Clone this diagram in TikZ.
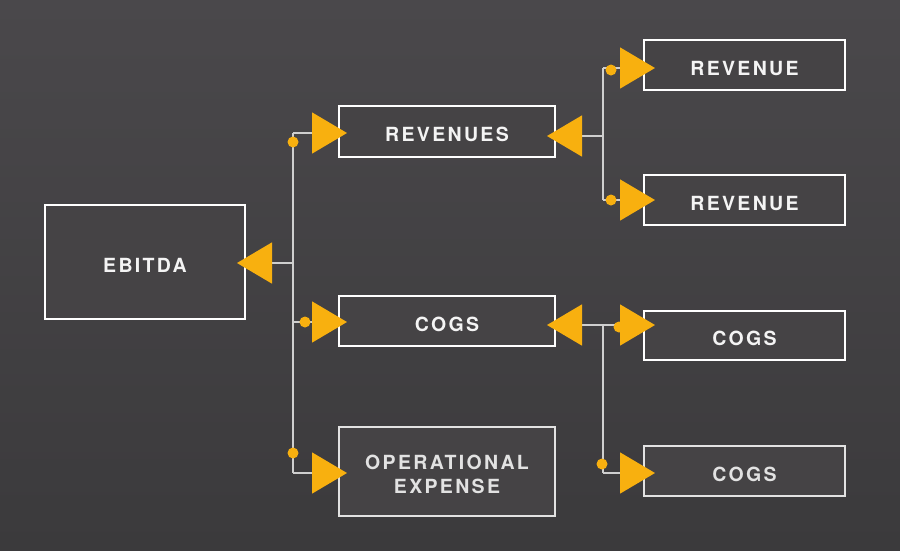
\documentclass[tikz,border=0pt]{standalone}
\usepackage{fontspec}
\setmainfont{TeX Gyre Heros}
\newfontfamily\lblfont[LetterSpace=12]{TeX Gyre Heros}
\usetikzlibrary{arrows.meta,calc}
\definecolor{bgtop}{HTML}{4A484B}
\definecolor{bgbot}{HTML}{3B3A3C}
\definecolor{boxfill}{HTML}{454345}
\definecolor{triorange}{HTML}{F8B00F}
\definecolor{wirec}{HTML}{CFCFCF}
\definecolor{txtc}{HTML}{F4F4F4}
\definecolor{txtd}{HTML}{E2E2E2}
\newcommand\oneline[1]{\raisebox{0pt}[20pt][0pt]{#1}}
\begin{document}
\begin{tikzpicture}[x=1pt,y=-1pt,
  box/.style={draw=white, line width=2pt, fill=boxfill, inner sep=0pt,
    text=txtc, font=\lblfont\bfseries\fontsize{19.5}{24}\selectfont, align=center},
  dimbox/.style={draw=txtd, text=txtd},
  wire/.style={draw=wirec, line width=1.5pt},
  tipto/.style={-{Triangle[length=35pt,width=41pt,color=triorange]}},
  dot/.style={circle, fill=triorange, minimum size=11pt, inner sep=0pt},
]
\shade[top color=bgtop, bottom color=bgbot] (0,0) rectangle (900,550);
\useasboundingbox (0,0) rectangle (900,550);

% boxes
\node[box, minimum width=200pt, minimum height=114pt] (ebitda) at (145,262) {\oneline{EBITDA}};
\node[box, minimum width=216pt, minimum height=51pt] (revs) at (447,131.5) {\oneline{REVENUES}};
\node[box, minimum width=216pt, minimum height=50pt] (cogsm) at (447,321) {\oneline{COGS}};
\node[box, dimbox, minimum width=216pt, minimum height=89pt] (opex) at (447,471.5)
  {\raisebox{0pt}[20pt][24pt]{\begin{tabular}[t]{@{}c@{}}OPERATIONAL\\EXPENSE\end{tabular}}};
\node[box, minimum width=201pt, minimum height=50pt] (rev1) at (744.5,65) {\oneline{REVENUE}};
\node[box, minimum width=201pt, minimum height=50pt] (rev2) at (744.5,200) {\oneline{REVENUE}};
\node[box, minimum width=201pt, minimum height=49pt] (cogs1) at (744.5,335.5) {\oneline{COGS}};
\node[box, dimbox, minimum width=201pt, minimum height=50pt] (cogs2) at (744.5,471) {\oneline{COGS}};

% junction coordinates
\coordinate (jLt) at (293,133);
\coordinate (jLe) at (293,263);
\coordinate (jLc) at (293,322);
\coordinate (jLb) at (293,473);
\coordinate (jAt) at (603,68);
\coordinate (jAm) at (603,136);
\coordinate (jAb) at (603,200);
\coordinate (jBt) at (603,325);
\coordinate (jBb) at (603,473);

% trunks
\draw[wire] (jLt) -- (jLb);
\draw[wire] (jAt) -- (jAb);
\draw[wire] (jBt) -- (jBb);

% branches with arrowheads
\draw[wire, tipto, shorten >=-9pt] (jLe) -- (jLe -| ebitda.east);
\draw[wire, tipto, shorten >=-9pt] (jLt) -- (jLt -| revs.west);
\draw[wire, tipto, shorten >=-9pt] (jLc) -- (jLc -| cogsm.west);
\draw[wire, tipto, shorten >=-9pt] (jLb) -- (jLb -| opex.west);
\draw[wire, tipto, shorten >=-9pt] (jAm) -- (jAm -| revs.east);
\draw[wire, tipto, shorten >=-12pt] (jAt) -- (jAt -| rev1.west);
\draw[wire, tipto, shorten >=-12pt] (jAb) -- (jAb -| rev2.west);
\draw[wire, tipto, shorten >=-9pt] (jBt) -- (jBt -| cogsm.east);
\draw[wire, tipto, shorten >=-12pt] (jBt) -- (jBt -| cogs1.west);
\draw[wire, tipto, shorten >=-12pt] (jBb) -- (jBb -| cogs2.west);

% dots
\node[dot] (d1) at (293,142) {};
\node[dot] (d2) at (305,322) {};
\node[dot] (d3) at (293,453) {};
\node[dot] (d4) at (611,70) {};
\node[dot] (d5) at (611,200) {};
\node[dot] (d6) at (619,327) {};
\node[dot] (d7) at (602,464) {};
\end{tikzpicture}
\end{document}
